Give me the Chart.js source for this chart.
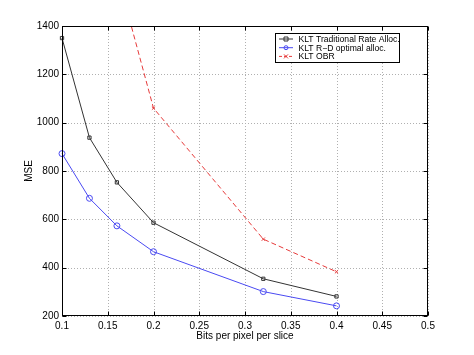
<!DOCTYPE html>
<html><head><meta charset="utf-8">
<script src="https://cdn.jsdelivr.net/npm/chart.js@4/dist/chart.umd.min.js"></script>
<style>html,body{margin:0;padding:0;background:#fff}#wrap{width:474px;height:355px;position:relative}</style>
</head><body><div id="wrap"><canvas id="c" width="474" height="355"></canvas></div>
<script>
const seriesNames = ['KLT Traditional Rate Alloc.', 'KLT R\u2212D optimal alloc.', 'KLT OBR'];
const xTrad = [0.1, 0.13, 0.16, 0.2, 0.32, 0.4];
const yTrad = [1350, 938, 753, 586, 354, 281];
const xRD = [0.1, 0.13, 0.16, 0.2, 0.32, 0.4];
const yRD = [872, 687, 573, 466, 301, 242];
const xOBR = [0.16, 0.2, 0.32, 0.4];
const yOBR = [1620, 1060, 518, 383];
const xTickVals = [0.1, 0.15, 0.2, 0.25, 0.3, 0.35, 0.4, 0.45, 0.5];
const xTickLabels = ['0.1', '0.15', '0.2', '0.25', '0.3', '0.35', '0.4', '0.45', '0.5'];
const yTickVals = [200, 400, 600, 800, 1000, 1200, 1400];
const yTickLabels = ['200', '400', '600', '800', '1000', '1200', '1400'];
const xTitle = 'Bits per pixel per slice';
const yTitle = 'MSE';

const pts = (xs, ys) => xs.map((x, i) => ({x: x, y: ys[i]}));
const colors = ['#333333', '#4a4af2', '#e63a3a'];
const dashes = [[], [], [5, 3]];
const markers = ['rect', 'circle', 'crossRot'];
const radii = [2.3, 3, 2.3];

Chart.defaults.font.family = '"Liberation Sans", Arial, sans-serif';
Chart.defaults.font.size = 10;
Chart.defaults.color = '#000';

function drawMarker(ctx, style, x, y, r) {
  ctx.beginPath();
  if (style === 'rect') {
    ctx.rect(x - r, y - r, 2 * r, 2 * r);
  } else if (style === 'circle') {
    ctx.arc(x, y, r, 0, Math.PI * 2);
  } else {
    ctx.moveTo(x - r, y - r); ctx.lineTo(x + r, y + r);
    ctx.moveTo(x + r, y - r); ctx.lineTo(x - r, y + r);
  }
  ctx.stroke();
}

const gridPlugin = {
  id: 'dotgrid',
  beforeDatasetsDraw(chart) {
    const ctx = chart.ctx;
    const a = chart.chartArea;
    const xs = chart.scales.x, ys = chart.scales.y;
    ctx.save();
    ctx.strokeStyle = '#b0b0b0';
    ctx.lineWidth = 1;
    ctx.setLineDash([1, 2]);
    xTickVals.forEach(v => {
      const px = Math.round(xs.getPixelForValue(v)) + 0.5;
      ctx.beginPath();
      ctx.moveTo(px, a.bottom); ctx.lineTo(px, a.top);
      ctx.stroke();
    });
    yTickVals.forEach(v => {
      const py = Math.round(ys.getPixelForValue(v)) + 0.5;
      ctx.beginPath();
      ctx.moveTo(a.left, py); ctx.lineTo(a.right, py);
      ctx.stroke();
    });
    ctx.restore();
  }
};

const framePlugin = {
  id: 'frame',
  afterDraw(chart) {
    const ctx = chart.ctx;
    const a = chart.chartArea;
    const xs = chart.scales.x, ys = chart.scales.y;
    ctx.save();
    ctx.strokeStyle = '#000';
    ctx.lineWidth = 1;
    ctx.setLineDash([]);
    const L = Math.round(a.left) + 0.5, R = Math.round(a.right) - 0.5;
    const T = Math.round(a.top) + 0.5, B = Math.round(a.bottom) - 0.5;
    ctx.strokeRect(L, T, R - L, B - T);
    const tl = 4;
    ctx.beginPath();
    xTickVals.forEach(v => {
      const px = Math.round(xs.getPixelForValue(v)) + 0.5;
      ctx.moveTo(px, B); ctx.lineTo(px, B - tl);
      ctx.moveTo(px, T); ctx.lineTo(px, T + tl);
    });
    yTickVals.forEach(v => {
      const py = Math.round(ys.getPixelForValue(v)) + 0.5;
      ctx.moveTo(L, py); ctx.lineTo(L + tl, py);
      ctx.moveTo(R, py); ctx.lineTo(R - tl, py);
    });
    ctx.stroke();

    // legend box
    const bx = 275, by = 33, bw = 124, bh = 29;
    ctx.fillStyle = '#fff';
    ctx.fillRect(bx, by, bw, bh);
    ctx.strokeRect(bx + 0.5, by + 0.5, bw, bh);
    const rows = [38.5, 47.2, 55.9];
    ctx.font = '8.6px "Liberation Sans", Arial, sans-serif';
    ctx.textBaseline = 'middle';
    ctx.textAlign = 'left';
    rows.forEach((ry, i) => {
      ctx.strokeStyle = colors[i];
      ctx.setLineDash(dashes[i].length ? [3, 2] : []);
      ctx.beginPath();
      ctx.moveTo(279, ry + 0.5); ctx.lineTo(293, ry + 0.5);
      ctx.stroke();
      ctx.setLineDash([]);
      drawMarker(ctx, markers[i], 286, ry + 0.5, 2);
      ctx.fillStyle = '#000';
      ctx.fillText(seriesNames[i], 298.5, ry + 1);
    });
    ctx.restore();
  }
};

const datasets = [
  pts(xTrad, yTrad), pts(xRD, yRD), pts(xOBR, yOBR)
].map((d, i) => ({
  label: seriesNames[i],
  data: d,
  borderColor: colors[i],
  backgroundColor: 'transparent',
  borderWidth: 1,
  borderDash: dashes[i],
  pointStyle: markers[i],
  pointRadius: radii[i],
  pointBorderWidth: 1,
  pointBorderColor: colors[i],
  pointBackgroundColor: 'transparent',
  tension: 0,
  clip: {left: 6, top: 0, right: 6, bottom: 6}
}));

new Chart(document.getElementById('c'), {
  type: 'line',
  data: {datasets: datasets},
  plugins: [gridPlugin, framePlugin],
  options: {
    responsive: false,
    animation: false,
    events: [],
    layout: {padding: {top: 26, right: 46, left: 0, bottom: 0}},
    plugins: {legend: {display: false}, tooltip: {enabled: false}},
    scales: {
      x: {
        type: 'linear', min: 0.1, max: 0.5,
        afterBuildTicks: s => { s.ticks = xTickVals.map(v => ({value: v})); },
        afterFit: s => { s.height = 39; },
        ticks: {padding: 4, callback: (v, i) => xTickLabels[i], maxRotation: 0, autoSkip: false},
        grid: {display: false, drawTicks: false},
        border: {display: false},
        title: {display: true, text: xTitle, padding: {top: 0, bottom: 13}, font: {size: 10}}
      },
      y: {
        type: 'linear', min: 200, max: 1400,
        afterBuildTicks: s => { s.ticks = yTickVals.map(v => ({value: v})); },
        afterFit: s => { s.width = 62; },
        ticks: {padding: 3, callback: (v, i) => yTickLabels[i], autoSkip: false},
        grid: {display: false, drawTicks: false},
        border: {display: false},
        title: {display: true, text: yTitle, padding: {top: 23, bottom: 0}, font: {size: 10}}
      }
    }
  }
});
</script></body></html>
